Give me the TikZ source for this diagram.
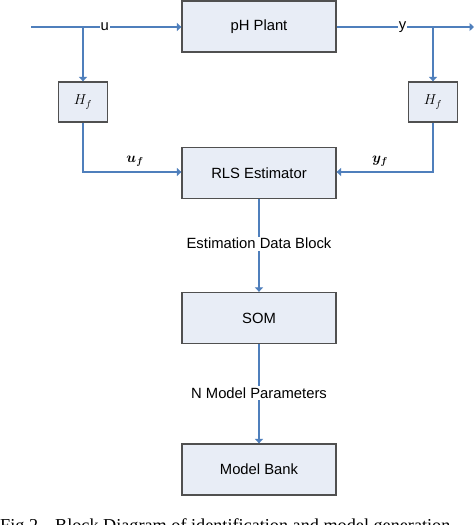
\documentclass[tikz,border=0pt]{standalone}
\usepackage{fontspec}
\setmainfont{Liberation Sans}
\newfontfamily\capfont{Liberation Serif}
\usepackage{amsmath}
\usetikzlibrary{arrows.meta}
\definecolor{boxfill}{HTML}{E8EDF6}
\definecolor{boxline}{HTML}{505050}
\definecolor{wire}{HTML}{4F7FBC}
\tikzset{
  blk/.style={draw=boxline, line width=1.3pt, fill=boxfill, minimum width=154pt, minimum height=51pt, inner sep=0pt, font=\fontsize{14.8}{16}\selectfont},
  fblk/.style={draw=boxline, line width=1.3pt, fill=boxfill, minimum width=49pt, minimum height=40pt, inner sep=0pt},
  wireline/.style={draw=wire, line width=1.1pt},
  arr/.style={wireline, -{Triangle[width=8pt,length=4.5pt]}},
  onwire/.style={fill=white, inner sep=1pt, font=\fontsize{14.8}{16}\selectfont},
  wlabel/.style={font=\fontsize{14.8}{16}\selectfont, fill=white, inner sep=1.5pt}
}
\begin{document}
\begin{tikzpicture}[x=1pt,y=-1pt]
\path[use as bounding box, clip] (0,0) rectangle (474,525);
\fill[white] (0,0) rectangle (474,525);
% blocks
\node[blk] (plant) at (259,26.5) {pH Plant};
\node[blk] (rls) at (259,173) {RLS Estimator};
\node[blk] (som) at (259,318) {SOM};
\node[blk] (bank) at (259,469.5) {Model Bank};
\node[fblk] (hl) at (83,102) {\fontsize{14.5}{16}\selectfont$H_f$};
\node[fblk] (hr) at (433,102) {\fontsize{14.5}{16}\selectfont$H_f$};
% coordinates
\coordinate (in) at (31,27);
\coordinate (bl) at (83,27);
\coordinate (br) at (433,27);
\coordinate (out) at (474,27);
\coordinate (cl) at (83,172);
\coordinate (cr) at (433,172);
% wires
\draw[arr] (in) -- (plant.west |- in) node[pos=0.49, onwire] {u};
\draw[arr] (plant.east |- out) -- (out) node[pos=0.48, onwire] {y};
\draw[arr] (bl) -- (hl.north);
\draw[arr] (br) -- (hr.north);
\draw[arr] (hl.south) -- (cl) -- (rls.west |- cl);
\draw[arr] (hr.south) -- (cr) -- (rls.east |- cr);
\node[font=\fontsize{14.5}{16}\selectfont] (uf) at (135,161) {$\boldsymbol{u_f}$};
\node[font=\fontsize{14.5}{16}\selectfont] (yf) at (380,161) {$\boldsymbol{y_f}$};
\draw[arr] (rls.south) -- (som.north) node[pos=0.48, wlabel] {Estimation Data Block};
\draw[arr] (som.south) -- (bank.north) node[pos=0.49, wlabel] {N Model Parameters};
% caption (cut off by the page edge, as in the reference)
\node[anchor=base west, inner sep=0pt, font=\capfont\fontsize{18.2}{20}\selectfont] (cap) at (0,531) {Fig.2.\hspace{12.5pt}Block Diagram of identification and model generation};
\end{tikzpicture}
\end{document}
